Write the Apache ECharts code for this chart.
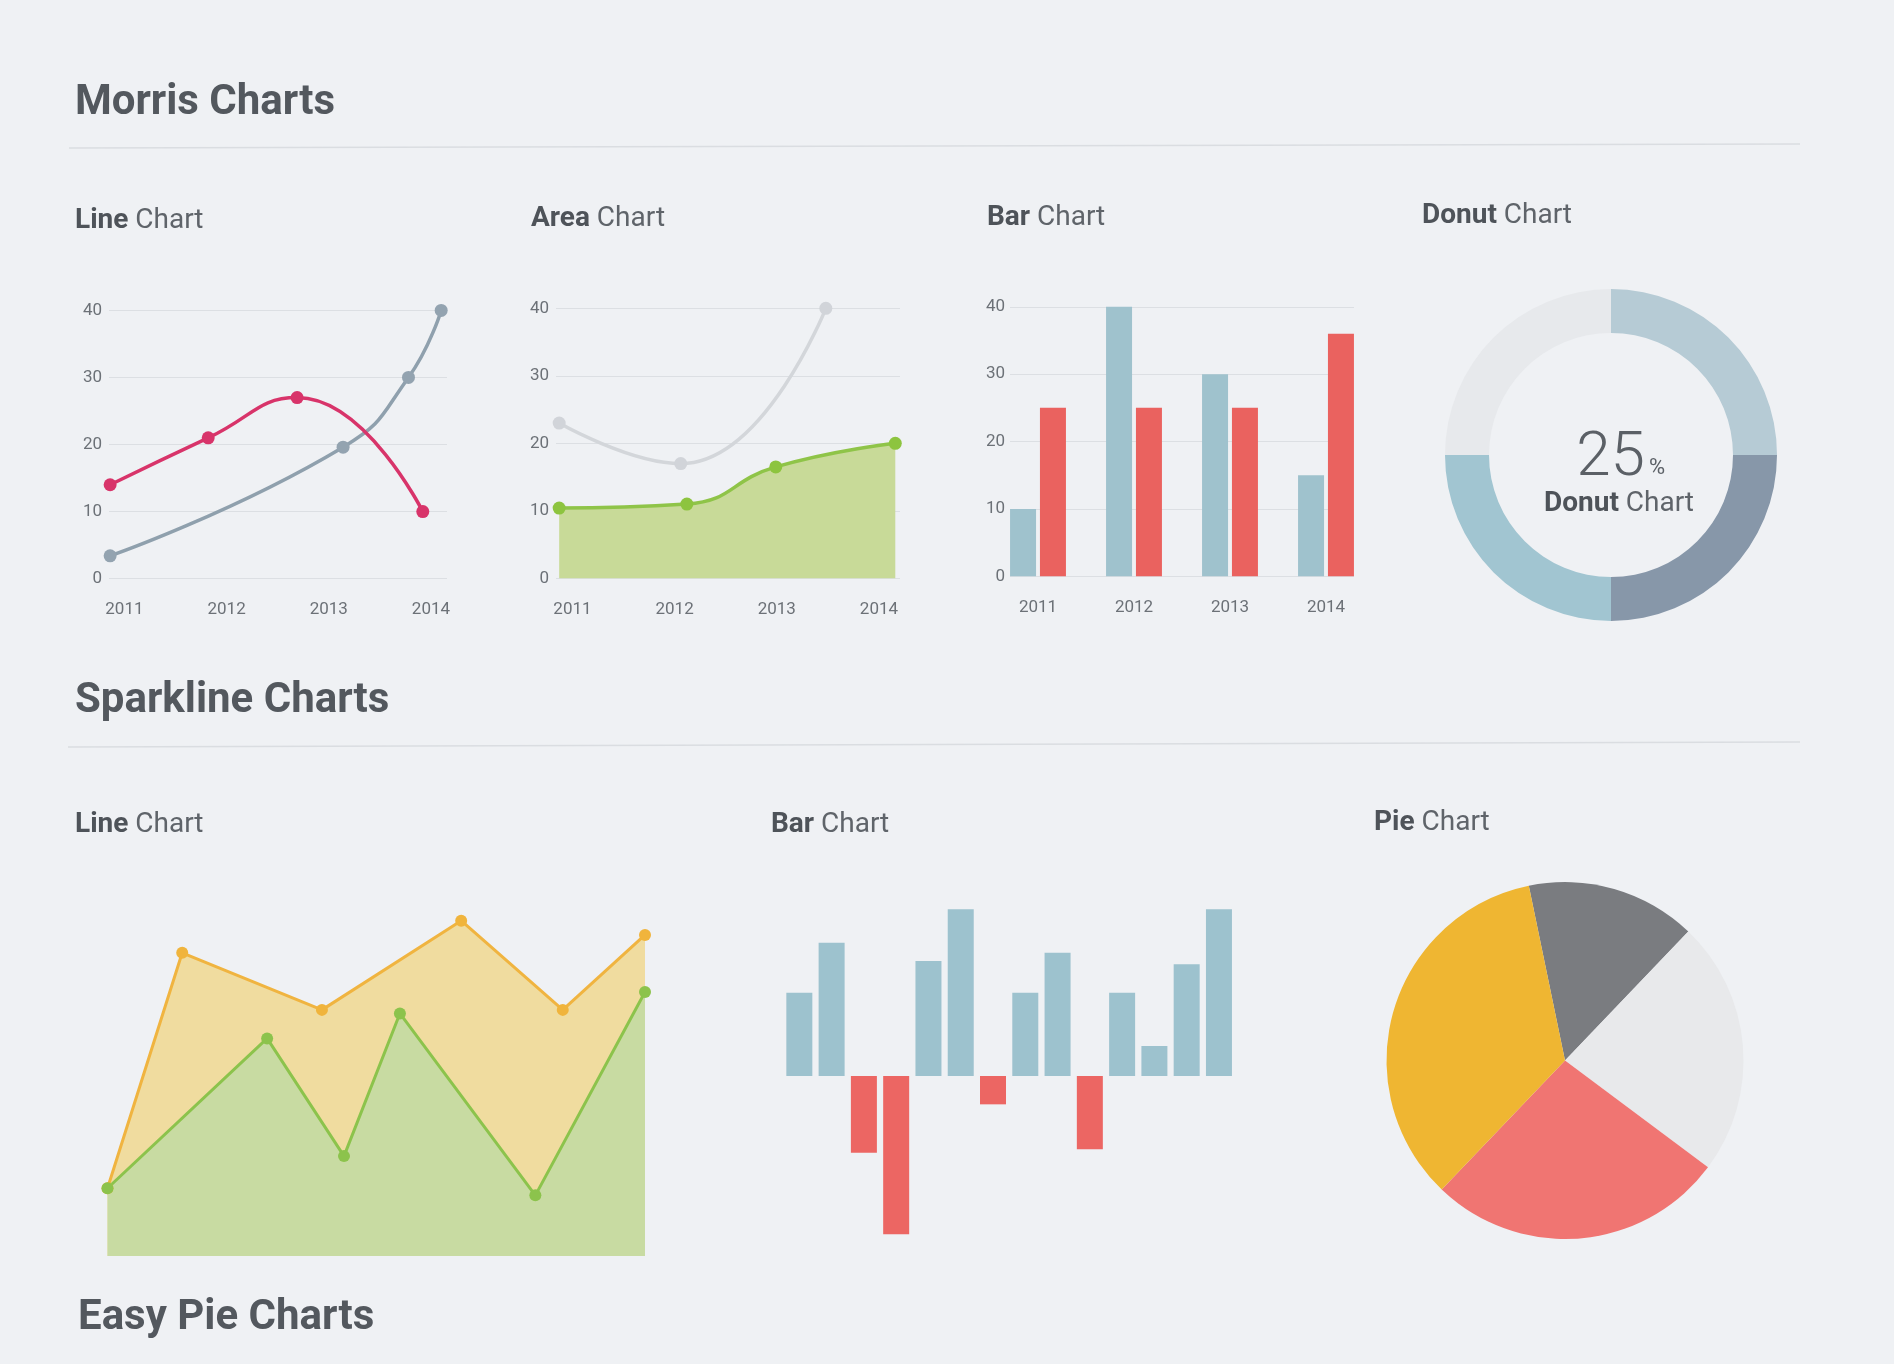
<!DOCTYPE html>
<html>
<head>
<meta charset="utf-8">
<script src="https://cdn.jsdelivr.net/npm/echarts@6/dist/echarts.min.js"></script>
<style>
  html, body { margin: 0; padding: 0; background: #eff1f4; }
  #main { width: 1894px; height: 1364px; }
</style>
</head>
<body>
<div id="main"></div>
<script>
// ---------- data ----------
const morrisYears = [2011, 2012, 2013, 2014];
const morrisYearLabels = ['2011', '2012', '2013', '2014'];
const morrisYTicks = [0, 10, 20, 30, 40];

// Morris line chart (x = position along the year axis, y = value)
const lineRedX = [2010.86, 2011.82, 2012.69, 2013.92];
const lineRedY = [14, 21, 27, 10];
const lineGrayX = [2010.86, 2013.14, 2013.78, 2014.10];
const lineGrayY = [3.4, 19.6, 30, 40];

// Morris area chart
const areaGreenX = [2010.87, 2012.12, 2012.99, 2014.16];
const areaGreenY = [10.4, 11, 16.5, 20];
const areaGrayX = [2010.87, 2012.06, 2013.48];
const areaGrayY = [23, 17, 40];

// Morris bar chart
const barBlue = [10, 40, 30, 15];
const barRed = [25, 25, 25, 36];

// Morris donut chart
const donutNames = ['A', 'B', 'C', 'D'];
const donutValues = [25, 25, 25, 25];

// Sparkline composite line chart
const sparkOrangeX = [0, 1.39, 3.99, 6.58, 8.47, 10];
const sparkOrangeY = [1.9, 8.5, 6.9, 9.4, 6.9, 9.0];
const sparkGreenX = [0, 2.97, 4.40, 5.44, 7.96, 10];
const sparkGreenY = [1.9, 6.1, 2.8, 6.8, 1.7, 7.4];

// Sparkline bar chart
const sparkBars = [5, 8, -4.6, -9.5, 6.9, 10, -1.7, 5, 7.4, -4.4, 5, 1.8, 6.7, 10];

// Sparkline pie chart
const pieNames = ['a', 'b', 'c', 'd'];
const pieValues = [4, 6, 7, 9];

// ---------- styling ----------
const FONT = 'Roboto, "Noto Sans", sans-serif';
const LABEL_COLOR = '#6c7177';
const GRID_LINE = '#dcdfe3';
const TITLE_COLOR = '#53585e';
const SUB_BOLD = '#4e5359';
const SUB_REG = '#5f646a';

const zip = (xs, ys) => xs.map((x, i) => [x, ys[i]]);

function morrisYAxis(gridIndex, margin) {
  return {
    gridIndex, type: 'value', min: 0, max: 40, interval: 10,
    axisLine: { show: false }, axisTick: { show: false },
    axisLabel: { margin: margin, fontSize: 17, color: LABEL_COLOR, fontFamily: FONT,
      customValues: morrisYTicks },
    splitLine: { lineStyle: { color: GRID_LINE, width: 1 } }
  };
}
function yearValueAxis(gridIndex, min, max) {
  return {
    gridIndex, type: 'value', min, max,
    axisLine: { show: false }, axisTick: { show: false },
    splitLine: { show: false },
    axisLabel: { margin: 23, fontSize: 17, color: LABEL_COLOR, fontFamily: FONT,
      customValues: morrisYears, formatter: v => String(Math.round(v)) }
  };
}
function subtitle(x, y, bold, rest) {
  return {
    type: 'text', x, y, silent: true,
    style: {
      text: '{b|' + bold + '} ' + rest,
      fontSize: 28, fontFamily: FONT, fill: SUB_REG, verticalAlign: 'middle',
      rich: { b: { fontSize: 28, fontFamily: FONT, fontWeight: 'bold', fill: SUB_BOLD } }
    }
  };
}
function section(x, y, text) {
  return {
    type: 'text', x, y, silent: true,
    style: { text, fontSize: 42, fontWeight: 'bold', fontFamily: FONT, fill: TITLE_COLOR, verticalAlign: 'middle' }
  };
}
function rule(x1, y1, x2, y2) {
  return { type: 'line', silent: true, shape: { x1, y1, x2, y2 }, style: { stroke: '#dadde1', lineWidth: 1.5 } };
}

const chart = echarts.init(document.getElementById('main'), null, { renderer: 'canvas' });

const option = {
  backgroundColor: '#eff1f4',
  animation: false,
  grid: [
    { left: 109, top: 310.4, width: 338, height: 268.2 },
    { left: 556, top: 308.3, width: 344, height: 270 },
    { left: 990, top: 306.8, width: 384, height: 269.5 },
    { left: 107.5, top: 899.3, width: 537.5, height: 356.7 },
    { left: 783.2, top: 909.3, width: 451.9, height: 333.4 },
    { left: 1010, top: 306.8, width: 344, height: 269.5 }
  ],
  xAxis: [
    yearValueAxis(0, 2010.849, 2014.157),
    yearValueAxis(1, 2010.839, 2014.206),
    {
      gridIndex: 2, type: 'category', data: morrisYearLabels,
      axisLine: { show: false }, axisTick: { show: false },
      axisLabel: { margin: 23, fontSize: 17, color: LABEL_COLOR, fontFamily: FONT }
    },
    { gridIndex: 3, type: 'value', min: 0, max: 10, show: false },
    { gridIndex: 4, type: 'category', data: sparkBars.map((_, i) => String(i)), show: false },
    { gridIndex: 5, type: 'value', min: 0, max: 1, show: false }
  ],
  yAxis: [
    morrisYAxis(0, 7),
    morrisYAxis(1, 7),
    { gridIndex: 2, type: 'value', min: 0, max: 40, show: false },
    { gridIndex: 3, type: 'value', min: 0, max: 10, show: false },
    { gridIndex: 4, type: 'value', min: -10, max: 10, show: false },
    morrisYAxis(5, 5)
  ],
  series: [
    {
      type: 'line', xAxisIndex: 0, yAxisIndex: 0, data: zip(lineGrayX, lineGrayY),
      smooth: 0.5, symbol: 'circle', symbolSize: 13,
      lineStyle: { width: 3.5, color: '#8fa0ad' }, itemStyle: { color: '#93a3b0' }, silent: true
    },
    {
      type: 'line', xAxisIndex: 0, yAxisIndex: 0, data: zip(lineRedX, lineRedY),
      smooth: 0.5, symbol: 'circle', symbolSize: 13,
      lineStyle: { width: 3.5, color: '#d8346a' }, itemStyle: { color: '#d8346a' }, silent: true
    },
    {
      type: 'line', xAxisIndex: 1, yAxisIndex: 1, data: zip(areaGrayX, areaGrayY),
      smooth: 0.5, symbol: 'circle', symbolSize: 13,
      lineStyle: { width: 3.5, color: '#d3d6da' }, itemStyle: { color: '#d1d4d9' }, silent: true
    },
    {
      type: 'line', xAxisIndex: 1, yAxisIndex: 1, data: zip(areaGreenX, areaGreenY),
      smooth: 0.5, symbol: 'circle', symbolSize: 13,
      lineStyle: { width: 3.5, color: '#8fc448' }, itemStyle: { color: '#8dc43f' },
      areaStyle: { color: '#c8da98', opacity: 1 }, silent: true
    },
    {
      type: 'bar', xAxisIndex: 2, yAxisIndex: 2, data: barBlue,
      barWidth: 26, barGap: '15%', itemStyle: { color: '#9fc2cd' }, silent: true
    },
    {
      type: 'bar', xAxisIndex: 2, yAxisIndex: 2, data: barRed,
      barWidth: 26, barGap: '15%', itemStyle: { color: '#ea625f' }, silent: true
    },
    {
      type: 'pie', center: [1611, 455], radius: [122, 166], startAngle: 90, clockwise: true,
      label: { show: false }, labelLine: { show: false }, silent: true,
      data: donutValues.map((v, i) => ({
        name: donutNames[i], value: v,
        itemStyle: { color: ['#b6cbd5', '#8797a9', '#a1c5d1', '#e7e9ec'][i] }
      }))
    },
    {
      type: 'line', xAxisIndex: 3, yAxisIndex: 3, data: zip(sparkOrangeX, sparkOrangeY),
      symbol: 'circle', symbolSize: 12,
      lineStyle: { width: 3, color: '#f0b440' }, itemStyle: { color: '#f0b43c' },
      areaStyle: { color: '#f0dc9f', opacity: 1 }, silent: true
    },
    {
      type: 'line', xAxisIndex: 3, yAxisIndex: 3, data: zip(sparkGreenX, sparkGreenY),
      symbol: 'circle', symbolSize: 12,
      lineStyle: { width: 3, color: '#8cc34c' }, itemStyle: { color: '#8cc34c' },
      areaStyle: { color: '#c8dba2', opacity: 1 }, silent: true
    },
    {
      type: 'bar', xAxisIndex: 4, yAxisIndex: 4, data: sparkBars, barWidth: 26, silent: true,
      itemStyle: { color: p => (p.value < 0 ? '#ec6663' : '#9dc2ce') }
    },
    {
      type: 'pie', center: [1565, 1060.5], radius: 178.5, startAngle: 101.7, clockwise: true,
      label: { show: false }, labelLine: { show: false }, silent: true,
      data: pieValues.map((v, i) => ({
        name: pieNames[i], value: v,
        itemStyle: { color: ['#7a7c80', '#e8e9eb', '#f07572', '#efb632'][i] }
      }))
    }
  ],
  graphic: {
    elements: [
      section(75, 103, 'Morris Charts'),
      rule(69, 148, 1800, 144),
      subtitle(75, 221, 'Line', 'Chart'),
      subtitle(531, 219, 'Area', 'Chart'),
      subtitle(987, 217.5, 'Bar', 'Chart'),
      subtitle(1422, 216, 'Donut', 'Chart'),
      {
        type: 'text', x: 1645, y: 459, silent: true,
        style: { text: '25', fontSize: 62, fontWeight: 300, fontFamily: FONT, fill: '#5b6066',
          align: 'right', verticalAlign: 'middle' }
      },
      {
        type: 'text', x: 1649, y: 468, silent: true,
        style: { text: '%', fontSize: 22, fontFamily: FONT, fill: '#5b6066', verticalAlign: 'middle' }
      },
      {
        type: 'text', x: 1619, y: 504, silent: true,
        style: {
          text: '{b|Donut} Chart', fontSize: 28, fontFamily: FONT, fill: SUB_REG,
          align: 'center', verticalAlign: 'middle',
          rich: { b: { fontSize: 28, fontFamily: FONT, fontWeight: 'bold', fill: SUB_BOLD } }
        }
      },
      section(75, 701, 'Sparkline Charts'),
      rule(68, 747, 1800, 742),
      subtitle(75, 825, 'Line', 'Chart'),
      subtitle(771, 825, 'Bar', 'Chart'),
      subtitle(1374, 823, 'Pie', 'Chart'),
      section(78, 1318, 'Easy Pie Charts')
    ]
  }
};

chart.setOption(option);
</script>
</body>
</html>
